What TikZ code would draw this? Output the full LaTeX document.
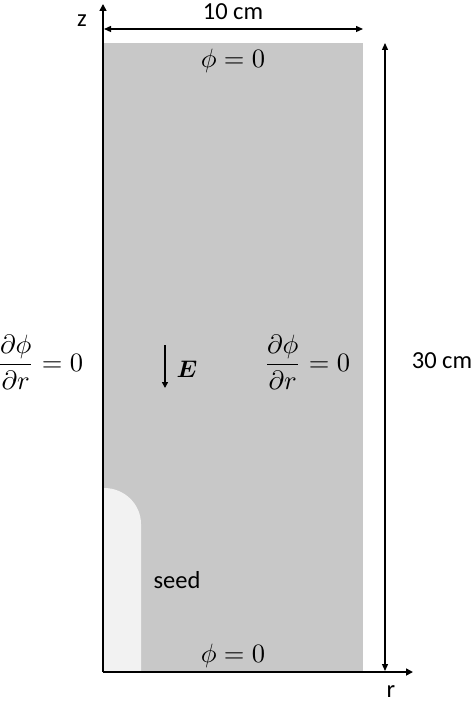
\documentclass[tikz,border=0pt]{standalone}
\usepackage{amsmath}
\usepackage{graphicx}
\usepackage{fontspec}
\setmainfont{Carlito}
\usetikzlibrary{arrows.meta}
\definecolor{domaingray}{RGB}{200,200,200}
\definecolor{seedc}{RGB}{242,242,242}
\newcommand{\mybigmath}[1]{\scalebox{2.65}{#1}}
\begin{document}
\begin{tikzpicture}[x=1pt,y=-1pt,
  lbl/.style={font=\fontsize{24.5}{28}\selectfont, inner sep=0pt},
  mth/.style={inner sep=0pt},
  axis/.style={line width=1.6pt, -{Triangle[length=7pt,width=7pt]}},
  dim/.style={line width=1.3pt, {Triangle[length=7pt,width=6pt]}-{Triangle[length=7pt,width=6pt]}}]
\useasboundingbox (0,0) rectangle (474,703);
% domain
\fill[domaingray] (104,43) rectangle (363,671);
% seed
\fill[seedc] (104,671) -- (104,488) arc[start angle=-90,end angle=0,x radius=37,y radius=36] -- (141,671) -- cycle;
% axes
\coordinate (O) at (103,672);
\coordinate (ztip) at (103,4);
\coordinate (rtip) at (413,672);
\draw[axis] (O) -- (ztip);
\draw[axis] (O) -- (rtip);
\node[lbl] (zl) at (82,21) {z};
\node[lbl] (rl) at (391,692) {r};
% dimension 10 cm
\coordinate (d1) at (104,29);
\coordinate (d2) at (363,29);
\draw[dim] (d1) -- (d2);
\node[lbl] (w) at (233,12) {10 cm};
% dimension 30 cm
\coordinate (h1) at (385,43);
\coordinate (h2) at (385,671);
\draw[dim] (h1) -- (h2);
\node[lbl] (h) at (442,361) {30 cm};
% boundary conditions
\node[mth] (top) at (233,61) {\mybigmath{$\phi = 0$}};
\node[mth] (bot) at (233,656) {\mybigmath{$\phi = 0$}};
\node[mth] (left) at (40,362) {\mybigmath{$\dfrac{\partial\phi}{\partial r} = 0$}};
\node[mth] (right) at (307,362) {\mybigmath{$\dfrac{\partial\phi}{\partial r} = 0$}};
% E field
\coordinate (e1) at (165,345);
\coordinate (e2) at (165,388);
\draw[line width=1.4pt, -{Triangle[length=6pt,width=6pt]}] (e1) -- (e2);
\node[mth] (E) at (187,369) {\scalebox{2.4}{$\boldsymbol{E}$}};
\node[lbl] (seed) at (177,580) {seed};
\end{tikzpicture}
\end{document}
